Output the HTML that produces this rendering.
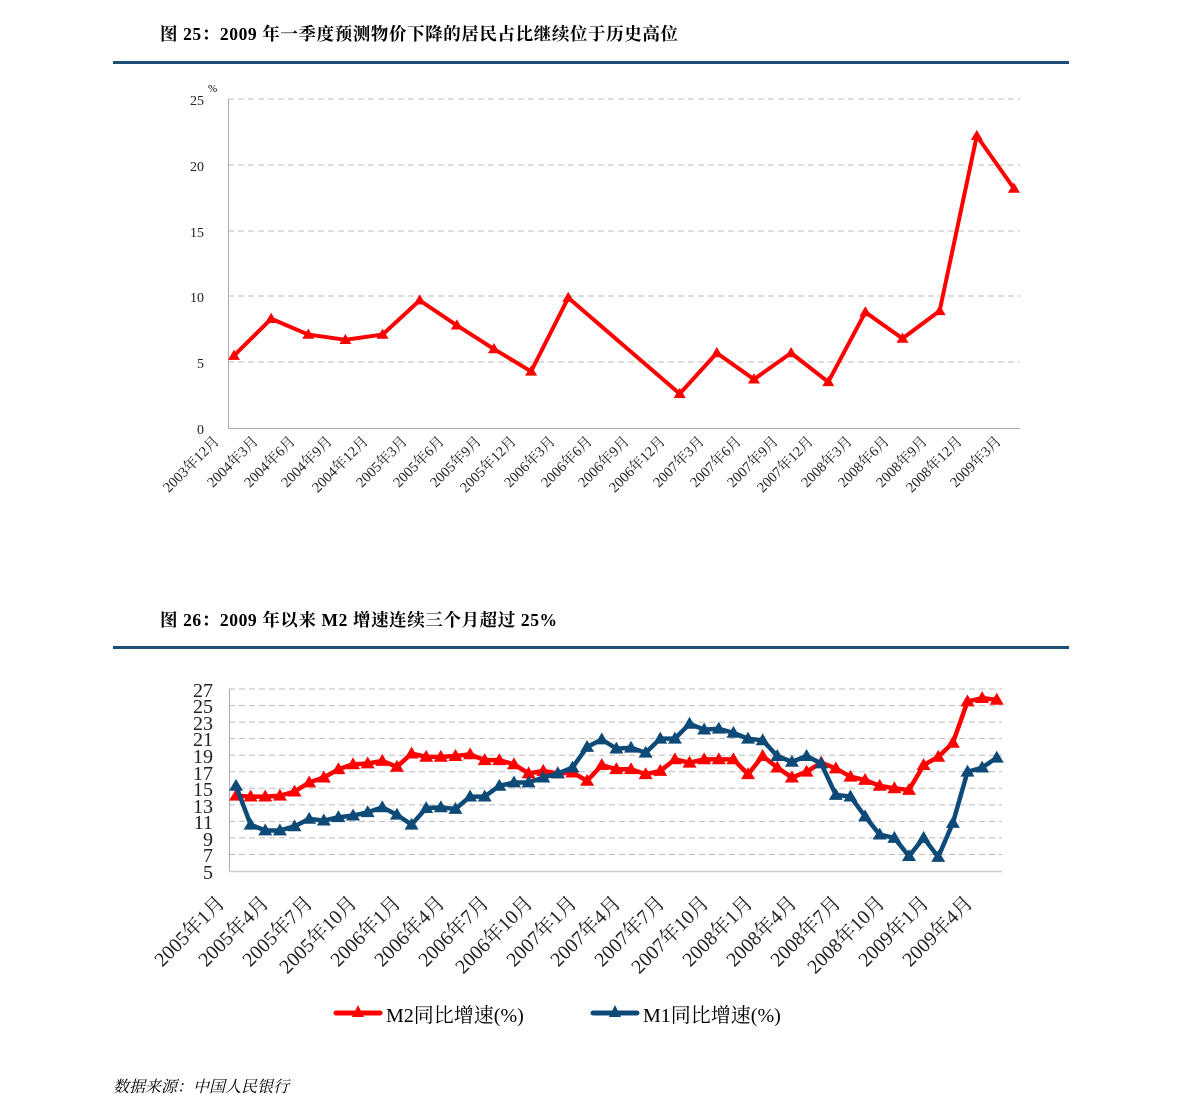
<!DOCTYPE html>
<html><head><meta charset="utf-8"><style>
body{margin:0;background:#fff;}
svg{display:block;font-family:"Liberation Serif","Noto Serif CJK SC",serif;}
</style></head><body>
<svg id="s" width="1191" height="1114" viewBox="0 0 1191 1114">
<text x="160" y="40" font-size="17.5" font-weight="bold" letter-spacing="0.6">图 25：2009 年一季度预测物价下降的居民占比继续位于历史高位</text>
<rect x="113" y="61" width="956" height="3" fill="#1f4e79"/>
<g stroke="#bbb" stroke-dasharray="6,4" stroke-width="1">
<line x1="228" y1="99" x2="1020" y2="99"/><line x1="228" y1="165" x2="1020" y2="165"/><line x1="228" y1="231" x2="1020" y2="231"/><line x1="228" y1="296" x2="1020" y2="296"/><line x1="228" y1="362" x2="1020" y2="362"/>
</g>
<line x1="228.5" y1="99" x2="228.5" y2="428" stroke="#aaa"/>
<line x1="228" y1="428.5" x2="1020" y2="428.5" stroke="#aaa"/>
<g font-size="14" text-anchor="end" fill="#222">
<text x="204" y="105">25</text><text x="204" y="171">20</text><text x="204" y="237">15</text><text x="204" y="302">10</text><text x="204" y="368">5</text><text x="204" y="434">0</text>
</g>
<text x="208" y="92" font-size="11">%</text>
<g font-size="14.5" text-anchor="end" fill="#222">
<text transform="translate(220,442) rotate(-45)">2003年12月</text>
<text transform="translate(259,442) rotate(-45)">2004年3月</text>
<text transform="translate(296,442) rotate(-45)">2004年6月</text>
<text transform="translate(333,442) rotate(-45)">2004年9月</text>
<text transform="translate(369,442) rotate(-45)">2004年12月</text>
<text transform="translate(408,442) rotate(-45)">2005年3月</text>
<text transform="translate(445,442) rotate(-45)">2005年6月</text>
<text transform="translate(482,442) rotate(-45)">2005年9月</text>
<text transform="translate(517,442) rotate(-45)">2005年12月</text>
<text transform="translate(556,442) rotate(-45)">2006年3月</text>
<text transform="translate(593,442) rotate(-45)">2006年6月</text>
<text transform="translate(630,442) rotate(-45)">2006年9月</text>
<text transform="translate(666,442) rotate(-45)">2006年12月</text>
<text transform="translate(705,442) rotate(-45)">2007年3月</text>
<text transform="translate(742,442) rotate(-45)">2007年6月</text>
<text transform="translate(779,442) rotate(-45)">2007年9月</text>
<text transform="translate(814,442) rotate(-45)">2007年12月</text>
<text transform="translate(853,442) rotate(-45)">2008年3月</text>
<text transform="translate(890,442) rotate(-45)">2008年6月</text>
<text transform="translate(928,442) rotate(-45)">2008年9月</text>
<text transform="translate(963,442) rotate(-45)">2008年12月</text>
<text transform="translate(1002,442) rotate(-45)">2009年3月</text>
</g>

<text x="160" y="626" font-size="17.5" font-weight="bold" letter-spacing="0.6">图 26：2009 年以来 M2 增速连续三个月超过 25%</text>
<rect x="113" y="646" width="956" height="3" fill="#1f4e79"/>
<g stroke="#bbb" stroke-dasharray="6,4" stroke-width="1" id="g2"></g>
<line x1="229.5" y1="689" x2="229.5" y2="871" stroke="#aaa"/>
<line x1="229" y1="871.5" x2="1002" y2="871.5" stroke="#ccc" stroke-width="1.5"/>
<g font-size="20" text-anchor="end" fill="#222">
<text x="213" y="697">27</text><text x="213" y="713">25</text><text x="213" y="730">23</text><text x="213" y="746">21</text><text x="213" y="763">19</text><text x="213" y="780">17</text><text x="213" y="796">15</text><text x="213" y="813">13</text><text x="213" y="829">11</text><text x="213" y="846">9</text><text x="213" y="862">7</text><text x="213" y="879">5</text>
</g>
<g font-size="20" text-anchor="end" fill="#222">
<text transform="translate(226,904) rotate(-45)">2005年1月</text>
<text transform="translate(270,904) rotate(-45)">2005年4月</text>
<text transform="translate(314,904) rotate(-45)">2005年7月</text>
<text transform="translate(358,904) rotate(-45)">2005年10月</text>
<text transform="translate(402,904) rotate(-45)">2006年1月</text>
<text transform="translate(446,904) rotate(-45)">2006年4月</text>
<text transform="translate(490,904) rotate(-45)">2006年7月</text>
<text transform="translate(534,904) rotate(-45)">2006年10月</text>
<text transform="translate(578,904) rotate(-45)">2007年1月</text>
<text transform="translate(622,904) rotate(-45)">2007年4月</text>
<text transform="translate(666,904) rotate(-45)">2007年7月</text>
<text transform="translate(710,904) rotate(-45)">2007年10月</text>
<text transform="translate(754,904) rotate(-45)">2008年1月</text>
<text transform="translate(798,904) rotate(-45)">2008年4月</text>
<text transform="translate(842,904) rotate(-45)">2008年7月</text>
<text transform="translate(886,904) rotate(-45)">2008年10月</text>
<text transform="translate(930,904) rotate(-45)">2009年1月</text>
<text transform="translate(974,904) rotate(-45)">2009年4月</text>
</g>
<line x1="336" y1="1013" x2="380" y2="1013" stroke="#f00" stroke-width="5" stroke-linecap="round"/>
<polygon points="358,1005 364,1017 352,1017" fill="#f00"/>
<text x="386" y="1022" font-size="20">M2同比增速(%)</text>
<line x1="593" y1="1013" x2="637" y2="1013" stroke="#0d4a78" stroke-width="5" stroke-linecap="round"/>
<polygon points="615,1005 621,1017 609,1017" fill="#0d4a78"/>
<text x="643" y="1022" font-size="20">M1同比增速(%)</text>
<text x="113" y="1092" font-size="16" font-style="italic">数据来源：中国人民银行</text>
</svg>
<script>
var s=document.getElementById('s'),NS='http://www.w3.org/2000/svg';
function el(t,a,p){var e=document.createElementNS(NS,t);for(var k in a)e.setAttribute(k,a[k]);(p||s).appendChild(e);return e;}
var g2=document.getElementById('g2');
for(var v=7;v<=27;v+=2){var y=871-(v-5)*8.27;el('line',{x1:229,y1:y,x2:1002,y2:y},g2);}
function series(pts,col,sw,tri){
 el('polyline',{points:pts.map(function(p){return p[0]+','+p[1]}).join(' '),fill:'none',stroke:col,'stroke-width':sw,'stroke-linejoin':'round'});
 pts.forEach(function(p){el('polygon',{points:p[0]+','+(p[1]-tri)+' '+(p[0]+tri)+','+(p[1]+tri*0.7)+' '+(p[0]-tri)+','+(p[1]+tri*0.7),fill:col});});
}
var c1=[5.5,8.3,7.1,6.7,7.1,9.7,7.8,6.0,4.3,9.9,null,null,2.6,5.7,3.7,5.7,3.5,8.8,6.8,8.9,22.2,18.2],p1=[];
c1.forEach(function(v,i){if(v!==null)p1.push([234+37.14*i,428-v*13.16]);});
series(p1,'#f00',4,6);
var m2=[14.1,14.0,14.0,14.1,14.6,15.7,16.3,17.3,17.9,18.0,18.3,17.6,19.2,18.8,18.8,18.9,19.1,18.4,18.4,17.9,16.8,17.1,16.8,16.9,15.9,17.8,17.3,17.3,16.7,17.1,18.5,18.1,18.5,18.5,18.5,16.7,18.9,17.5,16.3,17.0,18.1,17.4,16.4,16.0,15.3,15.0,14.8,17.8,18.8,20.5,25.5,25.9,25.7];
var m1=[15.3,10.6,9.9,9.9,10.4,11.3,11.1,11.5,11.7,12.1,12.7,11.8,10.6,12.6,12.7,12.5,14.0,14.0,15.3,15.7,15.7,16.3,16.8,17.5,20.0,20.9,19.8,19.9,19.3,21.0,21.0,22.8,22.1,22.2,21.7,21.0,20.8,18.9,18.2,18.9,18.0,14.2,14.0,11.6,9.4,9.0,6.8,9.0,6.7,10.8,17.0,17.5,18.7];
function pp(a){return a.map(function(v,i){return [236+14.63*i,871-(v-5)*8.27];});}
series(pp(m2),'#f00',4.5,7);
series(pp(m1),'#0d4a78',4.5,7);
</script>
</body></html>
